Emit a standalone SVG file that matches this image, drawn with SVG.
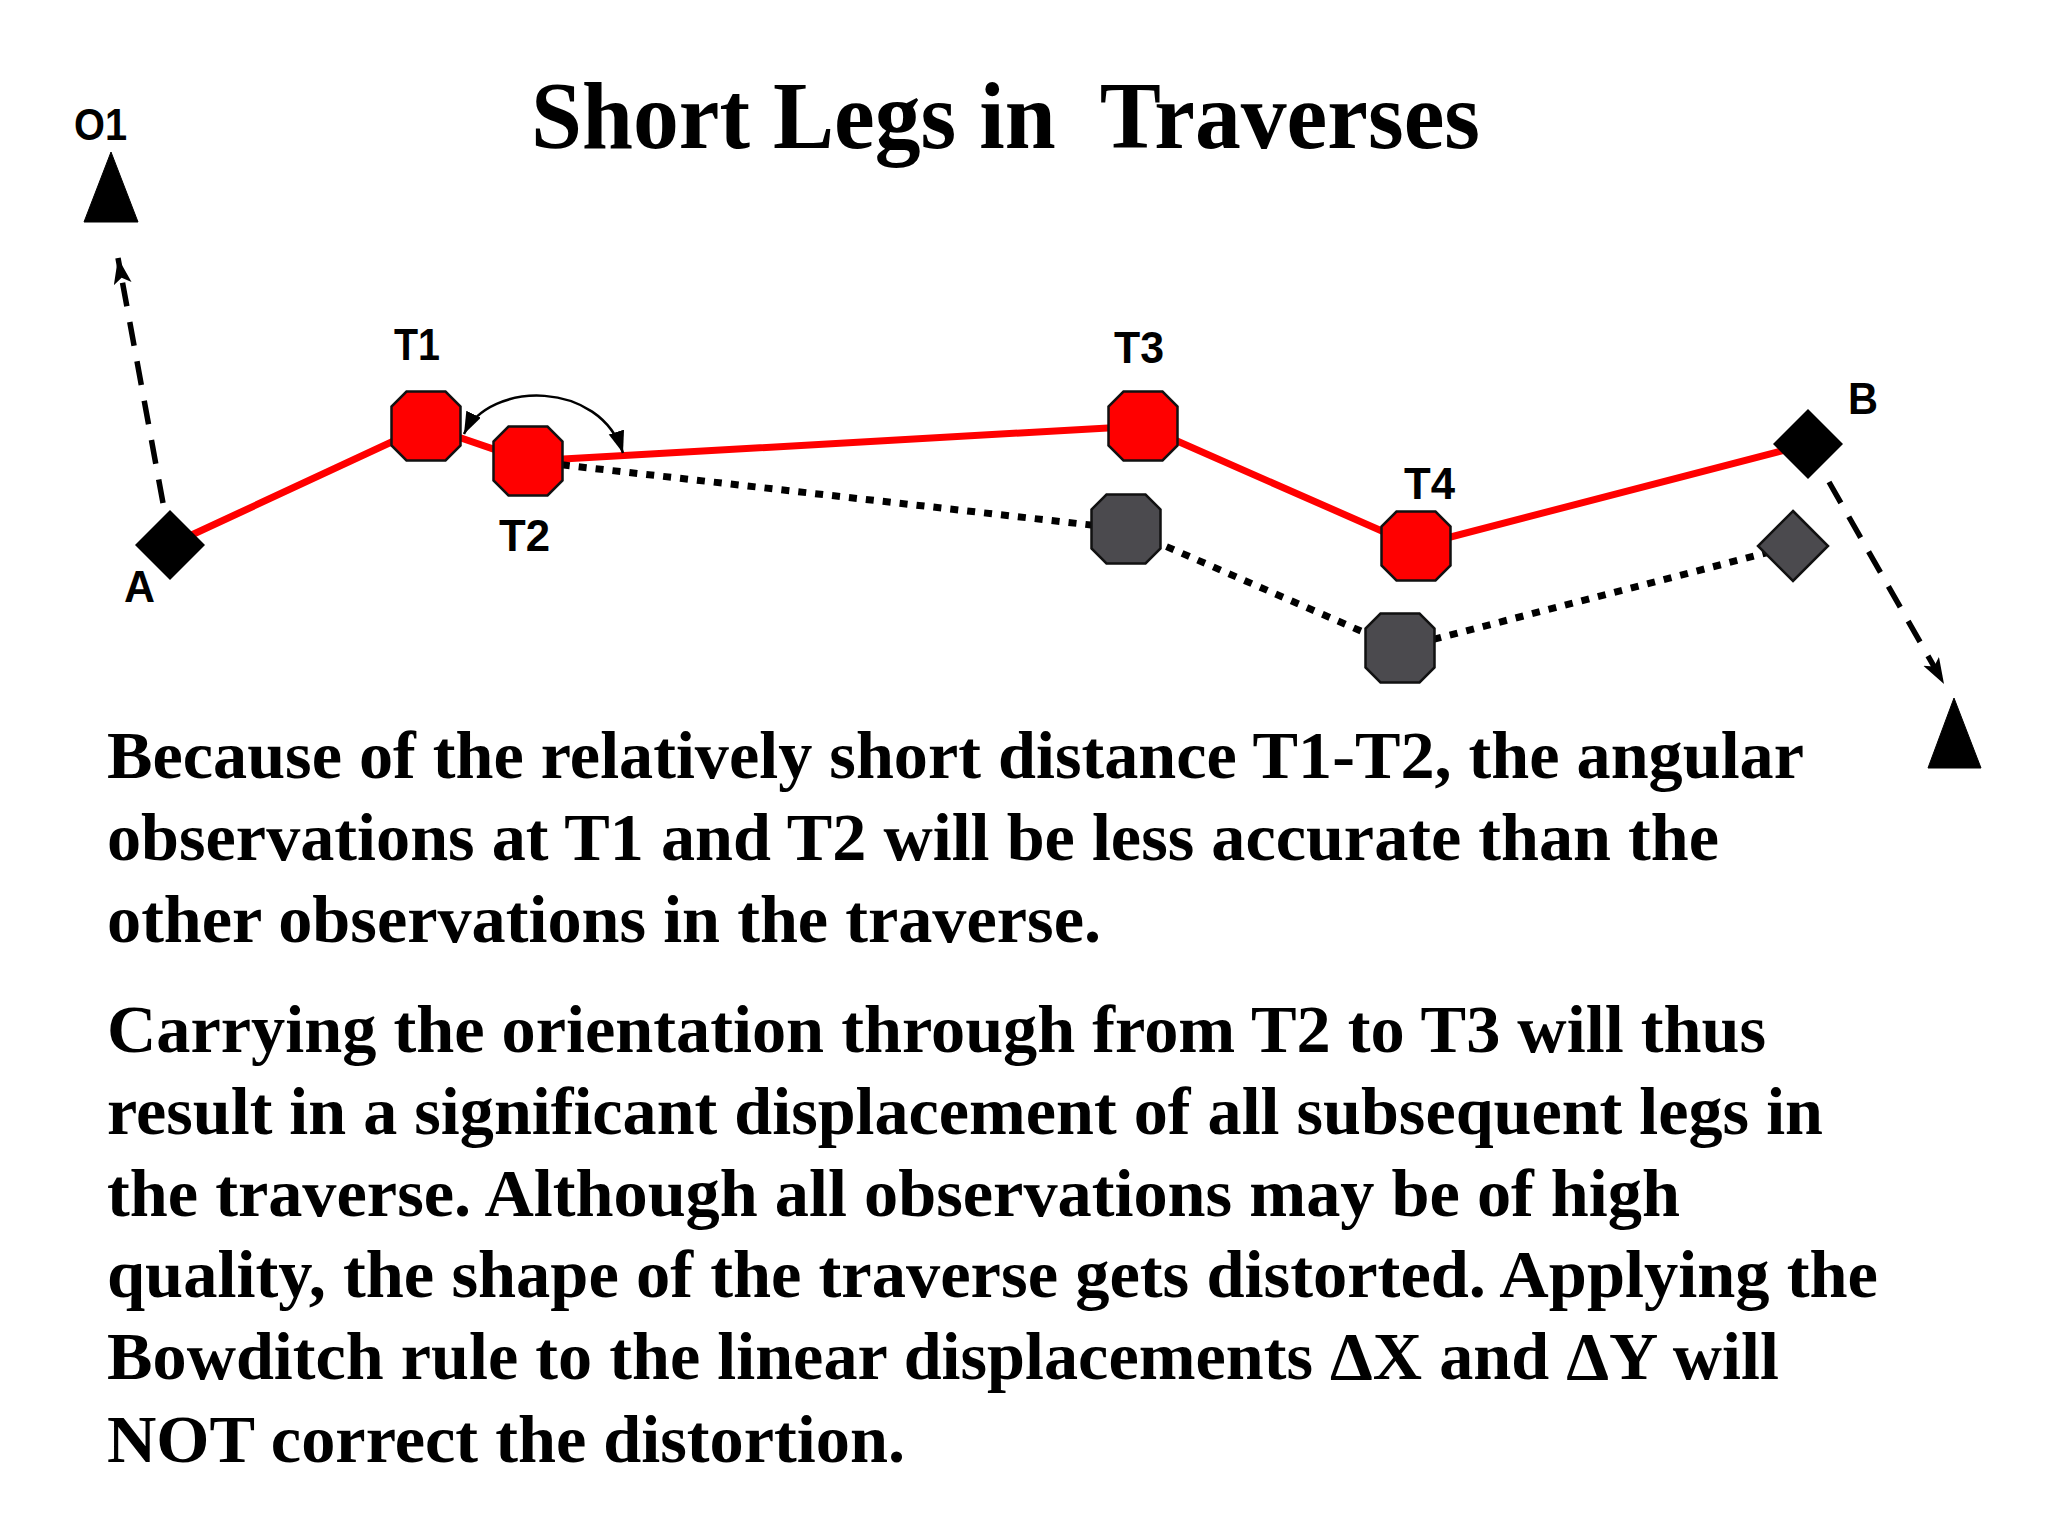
<svg xmlns="http://www.w3.org/2000/svg" width="2048" height="1536" viewBox="0 0 2048 1536">
<style>
.title{font-family:"Liberation Serif","Times New Roman",serif;font-weight:bold;font-size:95px;fill:#000}
.body{font-family:"Liberation Serif","Times New Roman",serif;font-weight:bold;font-size:68px;fill:#000}
.lbl{font-family:"Liberation Sans",Arial,sans-serif;font-weight:bold;font-size:44px;fill:#000}
.red{fill:#ff0000;stroke:#111;stroke-width:2.5}
.gray{fill:#4b4a4e;stroke:#111;stroke-width:2.5}
.blk{fill:#000;stroke:#000;stroke-width:1}
.redline{fill:none;stroke:#ff0000;stroke-width:7;stroke-linejoin:round}
.dotline{fill:none;stroke:#000;stroke-width:7;stroke-dasharray:8 9}
.dashline{fill:none;stroke:#000;stroke-width:5.5;stroke-dasharray:24 16}
.arc{fill:none;stroke:#000;stroke-width:2.5}
</style>
<defs>
<polygon id="oct" points="-19.5,-34.5 19.5,-34.5 34.5,-19.5 34.5,19.5 19.5,34.5 -19.5,34.5 -34.5,19.5 -34.5,-19.5"/>
<polygon id="dia" points="0,-35 35,0 0,35 -35,0"/>
<marker id="ah" markerUnits="userSpaceOnUse" markerWidth="28" markerHeight="20" refX="26" refY="9" orient="auto-start-reverse">
<path d="M0,0 L26,9 L0,18 L6,9 z" fill="#000"/>
</marker>
<marker id="ah2" markerUnits="userSpaceOnUse" markerWidth="24" markerHeight="18" refX="22" refY="8" orient="auto-start-reverse">
<path d="M0,0 L22,8 L0,16 z" fill="#000"/>
</marker>
</defs>
<rect width="2048" height="1536" fill="#ffffff"/>

<text class="title" x="531" y="148" textLength="949" lengthAdjust="spacingAndGlyphs" xml:space="preserve">Short Legs in  Traverses</text>

<g id="connectors">
<path class="redline" d="M170,545 L426,426 L528,461 L1143,426 L1416,546 L1808,444"/>
<path class="dotline" d="M528,461 L1126,529 L1400,648 L1793,546"/>
<path class="dashline" d="M163,503 L118,258" marker-end="url(#ah)"/>
<path class="dashline" d="M1829,482 L1944,684" marker-end="url(#ah)"/>
<path class="arc" d="M464,434 C490,380 600,380 623,453" marker-start="url(#ah2)" marker-end="url(#ah2)"/>
</g>

<g id="O1">
<polygon class="blk" points="111,152 84,222 138,222"/>
<text class="lbl" x="74" y="140" textLength="53" lengthAdjust="spacingAndGlyphs">O1</text>
</g>
<g id="O2">
<polygon class="blk" points="1954,698 1928,768 1981,768"/>
</g>
<g id="A">
<use href="#dia" x="170" y="545" fill="#000"/>
<text class="lbl" x="124" y="602" textLength="31" lengthAdjust="spacingAndGlyphs">A</text>
</g>
<g id="T1">
<use href="#oct" x="426" y="426" class="red"/>
<text class="lbl" x="394" y="360" textLength="46" lengthAdjust="spacingAndGlyphs">T1</text>
</g>
<g id="T2">
<use href="#oct" x="528" y="461" class="red"/>
<text class="lbl" x="499" y="551" textLength="51" lengthAdjust="spacingAndGlyphs">T2</text>
</g>
<g id="T3">
<use href="#oct" x="1143" y="426" class="red"/>
<text class="lbl" x="1114" y="363" textLength="50" lengthAdjust="spacingAndGlyphs">T3</text>
</g>
<g id="T4">
<use href="#oct" x="1416" y="546" class="red"/>
<text class="lbl" x="1404" y="499" textLength="51" lengthAdjust="spacingAndGlyphs">T4</text>
</g>
<g id="B">
<use href="#dia" x="1808" y="444" fill="#000"/>
<text class="lbl" x="1848" y="414" textLength="30" lengthAdjust="spacingAndGlyphs">B</text>
</g>
<g id="G3">
<use href="#oct" x="1126" y="529" class="gray"/>
</g>
<g id="G4">
<use href="#oct" x="1400" y="648" class="gray"/>
</g>
<g id="GB">
<use href="#dia" x="1793" y="546" class="gray"/>
</g>

<g id="text">
<text class="body" x="107" y="778" textLength="1697" lengthAdjust="spacingAndGlyphs">Because of the relatively short distance T1-T2, the angular</text>
<text class="body" x="107" y="860" textLength="1612" lengthAdjust="spacingAndGlyphs">observations at T1 and T2 will be less accurate than the</text>
<text class="body" x="107" y="942" textLength="994" lengthAdjust="spacingAndGlyphs">other observations in the traverse.</text>
<text class="body" x="107" y="1052" textLength="1659" lengthAdjust="spacingAndGlyphs">Carrying the orientation through from T2 to T3 will thus</text>
<text class="body" x="107" y="1134" textLength="1716" lengthAdjust="spacingAndGlyphs">result in a significant displacement of all subsequent legs in</text>
<text class="body" x="107" y="1216" textLength="1573" lengthAdjust="spacingAndGlyphs">the traverse. Although all observations may be of high</text>
<text class="body" x="107" y="1297" textLength="1771" lengthAdjust="spacingAndGlyphs">quality, the shape of the traverse gets distorted. Applying the</text>
<text class="body" x="107" y="1379" textLength="1672" lengthAdjust="spacingAndGlyphs">Bowditch rule to the linear displacements ΔX and ΔY will</text>
<text class="body" x="107" y="1462" textLength="798" lengthAdjust="spacingAndGlyphs">NOT correct the distortion.</text>
</g>
</svg>
